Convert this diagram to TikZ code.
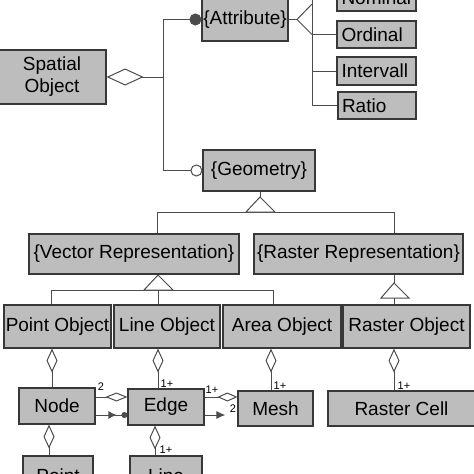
\documentclass[tikz,border=0pt]{standalone}
\usepackage{fontspec}
\setmainfont{Liberation Sans}
\usetikzlibrary{arrows.meta}
\definecolor{boxfill}{gray}{0.74}
\definecolor{boxline}{gray}{0.22}
\definecolor{conline}{gray}{0.3}
\begin{document}
\begin{tikzpicture}[x=1pt,y=-1pt,
  box/.style={draw=boxline, fill=boxfill, line width=1.2pt, inner sep=0pt, font=\fontsize{19}{22}\selectfont, text=black},
  rbox/.style={box, minimum width=79pt, minimum height=27pt, text width=70pt, align=left},
  conn/.style={draw=conline, line width=1pt},
  mult/.style={font=\fontsize{11}{12}\selectfont, inner sep=0pt, text=black}
]
\useasboundingbox (0,0) rectangle (474,474);
\clip (0,0) rectangle (474,474);

% boxes
\node[box, minimum width=108pt, minimum height=54pt, align=center] (spatial) at (52,77) {Spatial\\Object};
\node[box, minimum width=86pt, minimum height=43pt] (attr) at (245,19.5) {\{Attribute\}};
\node[rbox] (nominal) at (376.5,-2.5) {Nominal};
\node[rbox] (ordinal) at (376.5,34.5) {Ordinal};
\node[rbox, minimum height=28pt] (intervall) at (376.5,71) {Intervall};
\node[rbox, minimum width=78pt] (ratio) at (377,105.5) {Ratio};
\node[box, minimum width=112pt, minimum height=41pt] (geometry) at (259,170.5) {\{Geometry\}};
\node[box, minimum width=210pt, minimum height=40pt] (vector) at (134,254) {\{Vector Representation\}};
\node[box, minimum width=209pt, minimum height=40pt] (rasterrep) at (358.5,254) {\{Raster Representation\}};
\node[box, minimum width=107pt, minimum height=43pt] (pointobj) at (57.5,326.5) {Point Object};
\node[box, minimum width=106pt, minimum height=43pt] (lineobj) at (167,326.5) {Line Object};
\node[box, minimum width=118pt, minimum height=43pt] (areaobj) at (282,326.5) {Area Object};
\node[box, minimum width=127pt, minimum height=43pt] (rasterobj) at (406.5,326.5) {Raster Object};
\node[box, minimum width=76pt, minimum height=36pt] (node) at (57,406) {Node};
\node[box, minimum width=76pt, minimum height=36pt] (edge) at (166,407) {Edge};
\node[box, minimum width=75pt, minimum height=35pt] (mesh) at (275.5,408.5) {Mesh};
\node[box, minimum width=147pt, minimum height=35pt] (rastercell) at (401.5,408.5) {Raster Cell\hspace{10pt}};
\node[box, minimum width=70pt, minimum height=40pt] (point) at (58,476) {Point};
\node[box, minimum width=72pt, minimum height=40pt] (line) at (166,476) {Line};

% spatial object links
\coordinate (trunk) at (163,77);
\draw[conn,{Diamond[open,length=37pt,width=17pt]}-] (spatial.east) -- (trunk);
\draw[conn,-{Circle[length=12pt]}] (trunk) |- (attr.west);
\draw[conn,-{Circle[open,length=12pt]}] (trunk) |- (geometry.west);

% attribute generalization
\coordinate (aApex) at (297,19.5);
\coordinate (aTop) at (312,4);
\coordinate (aBot) at (312,34.5);
\coordinate (rail) at (312,0);
\draw[conn] (attr.east) -- (aApex);
\draw[conn] (aTop) -- (aApex) -- (aBot);
\draw[conn] (nominal.north -| rail) -- (ratio.west -| rail);
\foreach \n in {nominal,ordinal,intervall,ratio} \draw[conn] (\n.west -| rail) -- (\n.west);

% geometry generalization
\coordinate (gApex) at (260,197);
\coordinate (gL) at (157,212);
\coordinate (gR) at (394,212);
\draw[conn] (geometry.south -| gApex) -- (gApex);
\draw[conn] (gL) -- (gR);
\draw[conn, fill=white] (gApex) -- (246,212) -- (275,212) -- cycle;
\draw[conn] (gL) -- (vector.north -| gL);
\draw[conn] (gR) -- (rasterrep.north -| gR);

% vector generalization
\coordinate (vApex) at (158,275);
\coordinate (vL) at (51,290);
\coordinate (vM) at (158,290);
\coordinate (vR) at (273,290);
\draw[conn] (vector.south -| vApex) -- (vApex);
\draw[conn] (vL) -- (vR);
\draw[conn, fill=white] (vApex) -- (144,290) -- (173,290) -- cycle;
\draw[conn] (vL) -- (pointobj.north -| vL);
\draw[conn] (vM) -- (lineobj.north -| vM);
\draw[conn] (vR) -- (areaobj.north -| vR);

% raster generalization
\coordinate (rApex) at (394,283);
\coordinate (rBase) at (394,298);
\draw[conn] (rasterrep.south -| rApex) -- (rApex);
\draw[conn, fill=white] (rApex) -- (381,298) -- (409,298) -- cycle;
\draw[conn] (rBase) -- (rasterobj.north -| rBase);

% vertical aggregations
\coordinate (x1) at (52,0);
\coordinate (x2) at (158,0);
\coordinate (x3) at (271,0);
\coordinate (x4) at (394,0);
\coordinate (x5) at (49,0);
\coordinate (x6) at (155,0);
\tikzset{vagg/.style={conn,{Diamond[open,length=24pt,width=11pt]}-}}
\draw[vagg] (pointobj.south -| x1) -- (node.north -| x1);
\draw[vagg] (lineobj.south -| x2) -- (edge.north -| x2);
\draw[vagg] (areaobj.south -| x3) -- (mesh.north -| x3);
\draw[vagg] (rasterobj.south -| x4) -- (rastercell.north -| x4);
\draw[vagg] (node.south -| x5) -- (point.north -| x5);
\draw[vagg] (edge.south -| x6) -- (line.north -| x6);

% horizontal links
\coordinate (yA) at (0,397);
\coordinate (yB) at (0,415);
\draw[conn,-{Diamond[open,length=22pt,width=9pt]}] (node.east |- yA) -- (edge.west |- yA);
\draw[conn,-{Latex[length=8pt,width=8pt,sep=5pt]Circle[length=6pt]}] (node.east |- yB) -- (edge.west |- yB);
\draw[conn,-{Diamond[open,length=20pt,width=9pt]}] (edge.east |- yA) -- (mesh.west |- yA);
\draw[conn,-{Latex[length=9pt,width=8pt]},shorten >=12pt] (edge.east |- yB) -- (mesh.west |- yB);

% multiplicities
\node[mult] (m1) at (101,387) {2};
\node[mult] (m2) at (167,384) {1+};
\node[mult] (m3) at (212,390) {1+};
\node[mult] (m4) at (233,409) {2};
\node[mult] (m5) at (280,386) {1+};
\node[mult] (m6) at (404,386) {1+};
\node[mult] (m7) at (166,450) {1+};
\end{tikzpicture}
\end{document}
